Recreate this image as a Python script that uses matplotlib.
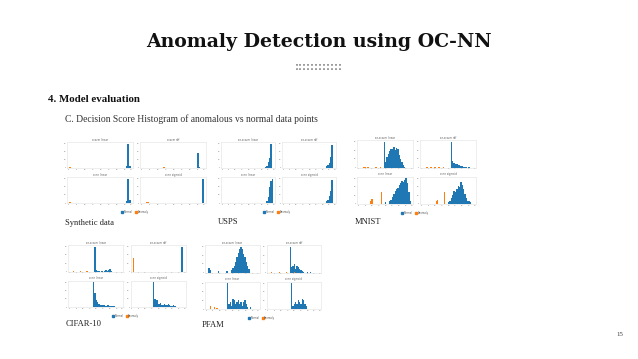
import numpy as np
import matplotlib.pyplot as plt
from matplotlib.patches import Patch

W, H = 638, 359

title = "Anomaly Detection using OC-NN"
section = "4. Model evaluation"
subtitle = "C. Decision Score Histogram of anomalous vs normal data points"
page_no = "15"

blue = "#1f77b4"
orange = "#ff7f0e"

# histogram bins are indices on a 40-bin grid per panel
# each panel: (title, normal_start, normal_counts, anomaly_bins, anomaly_counts)
syn_panels = [
    ("ocsvm linear", 36, [2, 30, 3], [1], [1]),
    ("ocsvm rbf", 35, [18, 1], [14], [1]),
    ("ocnn linear", 36, [3, 30, 4], [1], [1]),
    ("ocnn sigmoid", 38, [30], [3, 4], [1, 1]),
]
usps_panels = [
    ("ae-ocsvm linear", 33, [1, 3, 8, 12, 30], [6, 11, 16, 21, 26], [0.4, 0.4, 0.4, 0.4, 0.4]),
    ("ae-ocsvm rbf", 33, [2, 4, 6, 13, 28], [10, 14, 17, 20], [0.4, 0.4, 0.4, 0.4]),
    ("ocnn linear", 34, [3, 8, 20, 27, 30], [8, 14, 20, 26], [0.4, 0.4, 0.4, 0.4]),
    ("ocnn sigmoid", 33, [2, 4, 9, 15, 28], [9, 15, 18, 22], [0.4, 0.4, 0.4, 0.4]),
]
mnist_panels = [
    ("ae-ocsvm linear", 19, [30, 6, 12, 16, 19, 21, 22, 24, 20, 23, 22, 15, 10, 6, 3, 1],
     [4, 5, 7, 13, 16], [0.6, 0.6, 0.6, 0.6, 0.6]),
    ("ae-ocsvm rbf", 22, [30, 7, 5, 4, 4, 3, 3, 2, 2, 1, 1, 1, 0, 1],
     [4, 7, 10, 13, 16], [0.5, 0.5, 0.5, 0.5, 0.5]),
    ("ocnn linear", 20, [2, 0, 0, 3, 5, 8, 12, 15, 17, 19, 22, 25, 27, 26, 28, 30, 24, 14, 3],
     [9, 10, 17], [4, 6, 14]),
    ("ocnn sigmoid", 20, [2, 4, 7, 11, 15, 14, 18, 21, 20, 26, 22, 17, 12, 7, 4, 3, 2],
     [11, 12, 17], [3, 5, 14]),
]
cifar_panels = [
    ("ae-ocsvm linear", 19, [30, 2, 1, 1, 0, 1, 0, 1, 2, 1, 2, 3, 1],
     [3, 8, 13], [0.4, 0.4, 0.4]),
    ("ae-ocsvm rbf", 37, [30], [1], [16]),
    ("ocnn linear", 18, [30, 17, 8, 6, 4, 3, 2, 2, 2, 1, 2, 2, 1, 1, 1, 1],
     [3, 8, 13, 16], [0.4, 0.4, 0.4, 0.4]),
    ("ocnn sigmoid", 16, [30, 10, 8, 8, 4, 5, 3, 3, 4, 2, 3, 4, 2, 1, 1, 2, 1],
     [3, 7, 10], [0.4, 0.4, 0.4]),
]
pfam_panels = [
    ("ae-ocsvm linear", 1, [0, 5, 3, 0, 0, 0, 0, 0, 2, 0, 0, 0, 0, 0, 2, 2, 0, 0, 3, 5, 8, 12, 18, 23,
                           27, 30, 27, 22, 18, 12, 8, 4],
     [], []),
    ("ae-ocsvm rbf", 17, [30, 6, 8, 10, 4, 8, 6, 4, 3, 2, 1, 0, 0, 1, 0, 1],
     [3, 9, 14, 20], [0.5, 0.5, 0.5, 0.5]),
    ("ocnn linear", 16, [30, 6, 8, 4, 12, 10, 6, 8, 10, 6, 8, 4, 8, 10, 6, 2, 0, 2],
     [3, 6, 8], [3, 2, 1]),
    ("ocnn sigmoid", 18, [30, 4, 6, 8, 6, 10, 8, 6, 12, 10, 6, 4],
     [3, 7, 11, 14], [0.5, 0.5, 0.5, 0.5]),
]

groups = [
    # name, panels, box (left, top, right, bottom) px, label pos (x, y) px
    ("Synthetic data", syn_panels, (62, 137, 208, 207), (65, 223)),
    ("USPS", usps_panels, (216, 137, 338, 207), (218, 222)),
    ("MNIST", mnist_panels, (352, 135, 478, 208), (355, 222)),
    ("CIFAR-10", cifar_panels, (63, 240, 188, 311), (66, 324)),
    ("PFAM", pfam_panels, (200, 240, 323, 313), (202, 325)),
]

fig = plt.figure(figsize=(W / 100, H / 100), dpi=100)
fig.patch.set_facecolor("white")


def fx(x):
    return x / W


def fy(y):
    return 1 - y / H


def draw_panel(rect, panel):
    name, n_start, n_counts, a_bins, a_counts = panel
    l, t, r, b = rect
    # inner axes area: leave room for ticks and title
    ax = fig.add_axes([fx(l + 5), fy(b - 4), (r - l - 7) / W, (b - t - 9) / H])
    nx = n_start + np.arange(len(n_counts))
    ax.bar(nx, n_counts, width=1.0, color=blue, linewidth=0)
    if len(a_bins):
        ax.bar(a_bins, a_counts, width=1.0, color=orange, linewidth=0)
    ax.set_xlim(-1, 40)
    ax.set_ylim(0, 32)
    ax.set_title(name, fontsize=1.8, color="#555555", pad=1)
    ax.set_xticks([0, 5, 10, 15, 20, 25, 30, 35, 39])
    ax.set_yticks([0, 10, 20, 30])
    ax.tick_params(labelsize=1.4, length=0, pad=0.6, colors="#777777")
    for s in ax.spines.values():
        s.set_color("#e2e2e2")
        s.set_linewidth(0.4)
    return ax


for name, panels, box, lab in groups:
    L, T, R, B = box
    mx = (L + R) / 2
    my = (T + B) / 2
    rects = [(L, T, mx, my), (mx, T, R, my), (L, my, mx, B), (mx, my, R, B)]
    for rect, panel in zip(rects, panels):
        draw_panel(rect, panel)
    handles = [Patch(color=blue, label="Normal"), Patch(color=orange, label="Anomaly")]
    fig.legend(handles=handles, loc="center", bbox_to_anchor=(fx(mx), fy(B + 5)),
               ncol=2, fontsize=1.8, frameon=False, handlelength=0.8, handleheight=0.8,
               columnspacing=0.8, handletextpad=0.3, labelcolor="#555555")
    fig.text(fx(lab[0]), fy(lab[1]), name, fontsize=6.1, family="Liberation Serif",
             va="center", ha="left", color="#222222")

fig.text(0.5, fy(42), title, fontsize=13.6, family="DejaVu Serif", weight="bold",
         ha="center", va="center", color="#111111")
fig.text(0.5, fy(66), "::::::::::::", fontsize=8.5, family="DejaVu Serif", ha="center",
         va="center", color="#555555")
fig.text(fx(48), fy(100), section, fontsize=7.8, family="Liberation Serif", weight="bold",
         ha="left", va="center", color="#111111")
fig.text(fx(65), fy(119), subtitle, fontsize=6.9, family="Liberation Serif",
         ha="left", va="center", color="#333333")
fig.text(fx(620), fy(335), page_no, fontsize=5, family="Liberation Serif",
         ha="center", va="center", color="#444444")

fig.savefig("out.png", dpi=100, facecolor="white")
